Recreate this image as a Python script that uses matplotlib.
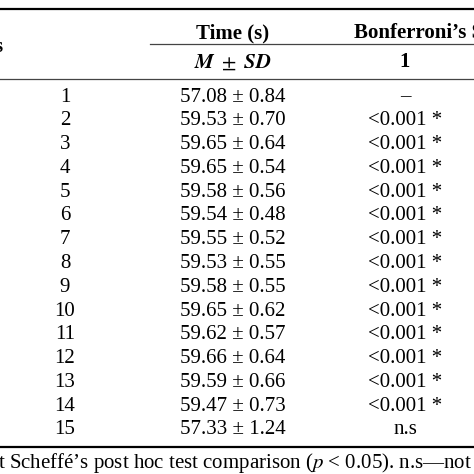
import matplotlib
matplotlib.use("Agg")
import matplotlib.pyplot as plt

plt.rcParams["mathtext.fontset"] = "stix"

rows = [str(i) for i in range(1, 16)]
means = [57.08, 59.53, 59.65, 59.65, 59.58, 59.54, 59.55, 59.53, 59.58, 59.65, 59.62, 59.66, 59.59, 59.47, 57.33]
sds = [0.84, 0.70, 0.64, 0.54, 0.56, 0.48, 0.52, 0.55, 0.55, 0.62, 0.57, 0.64, 0.66, 0.73, 1.24]
bonf = ["–"] + ["<0.001 *"] * 13 + ["n.s"]
footnote = "t Scheffé’s post hoc test comparison ($p$ < 0.05). n.s—not signifi"

W = H = 474
fig = plt.figure(figsize=(4.74, 4.74), dpi=100)
ax = fig.add_axes([0, 0, 1, 1])
ax.set_xlim(0, W)
ax.set_ylim(H, 0)
ax.axis("off")

font = "Liberation Serif"
fs = 15

ax.plot([0, W], [9, 9], color="black", lw=1.6)
ax.plot([150, W], [44, 44], color="#444444", lw=0.9)
ax.plot([0, W], [79, 79], color="#444444", lw=0.9)
ax.plot([0, W], [447, 447], color="black", lw=1.6)

ax.text(-6, 47, "s", fontsize=fs, family=font, weight="bold", va="center", ha="left")
ax.text(233, 33, "Time (s)", fontsize=fs, family=font, weight="bold", va="center", ha="center")
ax.text(354, 33, "Bonferroni’s Si", fontsize=fs, family=font, weight="bold", va="center", ha="left")
ax.text(233, 62, r"$\mathbfit{M}\ \pm\ \mathbfit{SD}$", fontsize=fs, va="center", ha="center")
ax.text(405, 62, "1", fontsize=fs, family=font, weight="bold", va="center", ha="center")

step = (430 - 97) / 14
for i, (r, m, s, b) in enumerate(zip(rows, means, sds, bonf)):
    y = 97 + i * step
    ax.text(65, y, r, fontsize=fs, family=font, va="center", ha="center")
    ax.text(233, y, f"{m:.2f} ± {s:.2f}", fontsize=fs, family=font, va="center", ha="center")
    ax.text(405, y, b, fontsize=fs, family=font, va="center", ha="center")

ax.text(-2, 463, footnote, fontsize=fs, family=font, va="center", ha="left")

fig.savefig("out.png", dpi=100)
